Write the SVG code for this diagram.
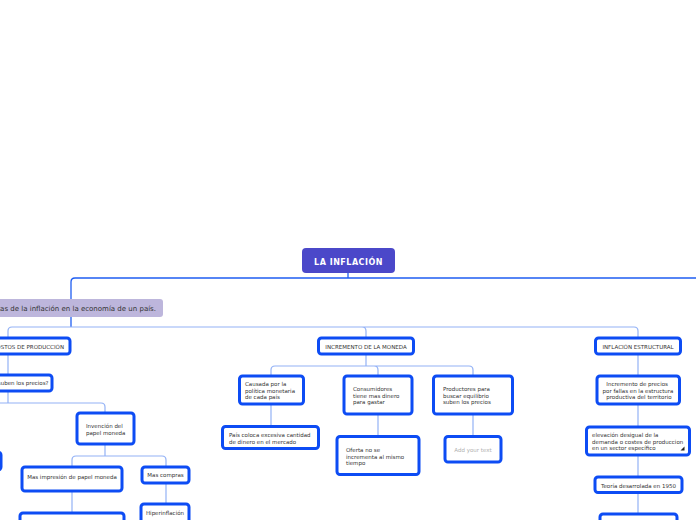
<svg xmlns="http://www.w3.org/2000/svg" width="696" height="520" viewBox="0 0 696 520">
<style>
.n{fill:#fff;stroke:#0d4cf4;stroke-width:3}
.t{font-family:"DejaVu Sans",Verdana,sans-serif;font-size:5.5px;fill:#333}
.c{text-anchor:middle}
.e{text-anchor:end}
.l{fill:none;stroke:#93b2f6;stroke-width:1.2}
.m{fill:none;stroke:#1f5ef2;stroke-width:1.3}
</style>
<rect width="696" height="520" fill="#fff"/>
<g id="connectors">
<path class="m" d="M348 273V278M71 327V282Q71 278 75 278H696"/>
<path class="l" d="M8 338V331Q8 327 12 327H634Q638 327 638 331V338M362 327Q366 327 366 331V338"/>
<path class="l" d="M8 354V375M8 391V403M-20 403H101Q105 403 105 407V413"/>
<path class="l" d="M105 444V456M72 467V460Q72 456 76 456H162Q166 456 166 460V467"/>
<path class="l" d="M72 491V512M166 483V504"/>
<path class="l" d="M366 354V366M271 376V370Q271 366 275 366H469Q473 366 473 370V376M374 366Q378 366 378 370V376"/>
<path class="l" d="M271 404V426M378 414V436M473 414V436"/>
<path class="l" d="M638 354V376M638 404V427M638 455V477M638 492V514"/>
</g>
<g id="root">
<rect x="302" y="248" width="93" height="25" rx="4" fill="#4b48c9"/>
<text x="348.5" y="265" class="c" font-family="DejaVu Sans,Verdana,sans-serif" font-size="8" font-weight="bold" letter-spacing="0.5" fill="#fff">LA INFLACIÓN</text>
</g>
<g id="causas">
<rect x="-60" y="299" width="223" height="18" rx="3" fill="#bdb6dc"/>
<text x="156" y="310.5" class="t e" style="font-size:7px">Causas de la inflación en la economía de un país.</text>
</g>
<g id="costos">
<rect x="-20" y="338" width="90" height="16" rx="3" class="n"/>
<text x="64" y="348.5" class="t e">COSTOS DE PRODUCCIÓN</text>
</g>
<g id="porque">
<rect x="-40" y="375" width="92" height="16" rx="3" class="n"/>
<text x="48.5" y="385" class="t e">¿Por qué suben los precios?</text>
</g>
<g id="offleft">
<rect x="-60" y="452" width="61" height="18" rx="3" class="n"/>
</g>
<g id="invencion">
<rect x="77" y="413" width="57" height="31" rx="3" class="n"/>
<text class="t"><tspan x="86" y="428">Invención del</tspan><tspan x="86" y="435">papel moneda</tspan></text>
</g>
<g id="masimpresion">
<rect x="22" y="467" width="100" height="24" rx="3" class="n"/>
<text x="72" y="479" class="t c">Mas impresión de papel moneda</text>
</g>
<g id="mascompras">
<rect x="142" y="467" width="47" height="16" rx="3" class="n"/>
<text x="165.5" y="477" class="t c">Mas compras</text>
</g>
<g id="bottomleft">
<rect x="20" y="513" width="104" height="20" rx="3" class="n"/>
</g>
<g id="hiperinflacion">
<rect x="141" y="504" width="48" height="20" rx="3" class="n"/>
<text x="165" y="515" class="t c">Hiperinflación</text>
</g>
<g id="incremento">
<rect x="318.5" y="338" width="95" height="16" rx="3" class="n"/>
<text x="366" y="349" class="t c">INCREMENTO DE LA MONEDA</text>
</g>
<g id="causada">
<rect x="239.5" y="376" width="64" height="28" rx="3" class="n"/>
<text class="t"><tspan x="245" y="386">Causada por la</tspan><tspan x="245" y="392.7">política monetaria</tspan><tspan x="245" y="399.4">de cada país</tspan></text>
</g>
<g id="pais">
<rect x="222.5" y="426.5" width="96" height="22" rx="3" class="n"/>
<text class="t"><tspan x="229" y="437">País coloca excesiva cantidad</tspan><tspan x="229" y="443.5">de dinero en el mercado</tspan></text>
</g>
<g id="consumidores">
<rect x="344" y="376" width="68" height="38" rx="3" class="n"/>
<text class="t"><tspan x="353" y="391">Consumidores</tspan><tspan x="353" y="397.7">tiene mas dinero</tspan><tspan x="353" y="404.4">para gastar</tspan></text>
</g>
<g id="oferta">
<rect x="337" y="436.5" width="82" height="38" rx="3" class="n"/>
<text class="t"><tspan x="346" y="452">Oferta no se</tspan><tspan x="346" y="458.5">incrementa al mismo</tspan><tspan x="346" y="465">tiempo</tspan></text>
</g>
<g id="productores">
<rect x="433.5" y="376" width="79" height="38" rx="3" class="n"/>
<text class="t"><tspan x="443" y="391">Productores para</tspan><tspan x="443" y="397.7">buscar equilibrio</tspan><tspan x="443" y="404.4">suben los precios</tspan></text>
</g>
<g id="addtext">
<rect x="445" y="436.5" width="56" height="25.5" rx="3" class="n"/>
<text x="473" y="452" class="t c" style="fill:#b0b0b0">Add your text</text>
</g>
<g id="estructural">
<rect x="595.5" y="338" width="85" height="16" rx="3" class="n"/>
<text x="638" y="349" class="t c">INFLACIÓN ESTRUCTURAL</text>
</g>
<g id="fallas">
<rect x="597" y="376" width="82.5" height="28" rx="3" class="n"/>
<text class="t c"><tspan x="638" y="386">Incremento de precios </tspan><tspan x="638" y="392.5">por fallas en la estructura</tspan><tspan x="638" y="399"> productiva del territorio</tspan></text>
</g>
<g id="elevacion">
<rect x="586.5" y="427" width="103" height="28" rx="3" class="n"/>
<text class="t"><tspan x="592" y="437">elevación desigual de la</tspan><tspan x="592" y="443.5">demanda o costes de produccion</tspan><tspan x="592" y="450">en un sector específico</tspan></text>
<path d="M684.5 446.5V450.5H680.5Z" fill="#222"/>
</g>
<g id="teoria">
<rect x="595" y="477" width="87" height="15.5" rx="3" class="n"/>
<text x="638.5" y="487.5" class="t c">Teoría desarrolada en 1950</text>
</g>
<g id="bottomright">
<rect x="600" y="514" width="77" height="20" rx="3" class="n"/>
</g>
</svg>
